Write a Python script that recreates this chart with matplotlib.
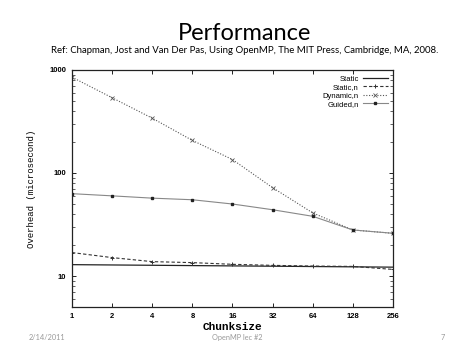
import numpy as np
import matplotlib
matplotlib.use("Agg")
import matplotlib.pyplot as plt
from matplotlib.ticker import LogLocator, NullFormatter, FixedLocator, FixedFormatter

# chunk sizes (x axis)
chunks = [1, 2, 4, 8, 16, 32, 64, 128, 256]
chunk_labels = ["1", "2", "4", "8", "16", "32", "64", "128", "256"]
y_ticks = [10, 100, 1000]
y_labels = ["10", "100", "1000"]

# overhead in microseconds
static_x = [1, 256]
static_y = [12.9, 12.2]
static_n = [16.9, 15.1, 13.8, 13.5, 13.0, 12.7, 12.5, 12.4, 11.6]
dynamic_n = [850, 537, 340, 207, 135, 72, 41, 28, 26]
guided_n = [63, 60, 57, 55, 50, 44, 38, 28, 26]

fig = plt.figure(figsize=(4.74, 3.55), dpi=100)
fig.patch.set_facecolor("white")

ax = fig.add_axes([0.152, 0.135, 0.677, 0.668])
ax.set_xscale("log", base=2)
ax.set_yscale("log")
ax.set_xlim(1, 256)
ax.set_ylim(5, 1000)

ax.plot(static_x, static_y, color="#222222", lw=0.9, label="Static")
ax.plot(chunks, static_n, color="#333333", lw=0.8, ls=(0, (3, 2)),
        marker="+", ms=2.5, mew=0.7, label="Static,n")
ax.plot(chunks, dynamic_n, color="#555555", lw=0.8, ls=(0, (1, 1.5)),
        marker="x", ms=2.5, mew=0.6, label="Dynamic,n")
ax.plot(chunks, guided_n, color="#888888", lw=0.8,
        marker="s", ms=2, mfc="#222222", mec="#222222", label="Guided,n")

ax.xaxis.set_major_locator(FixedLocator(chunks))
ax.xaxis.set_major_formatter(FixedFormatter(chunk_labels))
ax.xaxis.set_minor_locator(FixedLocator([]))
ax.yaxis.set_major_locator(FixedLocator(y_ticks))
ax.yaxis.set_major_formatter(FixedFormatter(y_labels))
ax.yaxis.set_minor_locator(LogLocator(base=10, subs=np.arange(2, 10), numticks=10))
ax.yaxis.set_minor_formatter(NullFormatter())

ax.tick_params(which="both", direction="in", top=True, right=True,
               labelsize=5.5, pad=4, color="#222222")
ax.tick_params(which="major", length=3, width=0.7)
ax.tick_params(which="minor", length=2, width=0.5)
for lab in ax.get_xticklabels() + ax.get_yticklabels():
    lab.set_fontweight("bold")
    lab.set_family("Liberation Sans")
for sp in ax.spines.values():
    sp.set_linewidth(0.9)
    sp.set_color("#222222")

ax.set_xlabel("Chunksize", family="Liberation Mono", fontweight="bold",
              fontsize=8, labelpad=2)
ax.set_ylabel("Overhead (microsecond)", family="Liberation Mono",
              fontsize=6.5, labelpad=10)

leg = ax.legend(loc="upper right", fontsize=5.5, frameon=False,
                markerfirst=False, handlelength=3.2, handletextpad=0.6,
                labelspacing=0.15, borderaxespad=0.3)
for t in leg.get_texts():
    t.set_family("Liberation Sans")

fig.text(0.517, 0.905, "Performance", ha="center", va="center",
         fontsize=17, family="Lato")
fig.text(0.517, 0.858,
         "Ref: Chapman, Jost and Van Der Pas, Using OpenMP, The MIT Press, Cambridge, MA, 2008.",
         ha="center", va="center", fontsize=6.9, family="Lato")

fig.text(0.06, 0.048, "2/14/2011", ha="left", va="center", fontsize=5.3,
         color="#999999", family="Lato")
fig.text(0.5, 0.048, "OpenMP lec #2", ha="center", va="center", fontsize=5.3,
         color="#999999", family="Lato")
fig.text(0.935, 0.048, "7", ha="center", va="center", fontsize=5.3,
         color="#999999", family="Lato")

fig.savefig("out.png", dpi=100)
